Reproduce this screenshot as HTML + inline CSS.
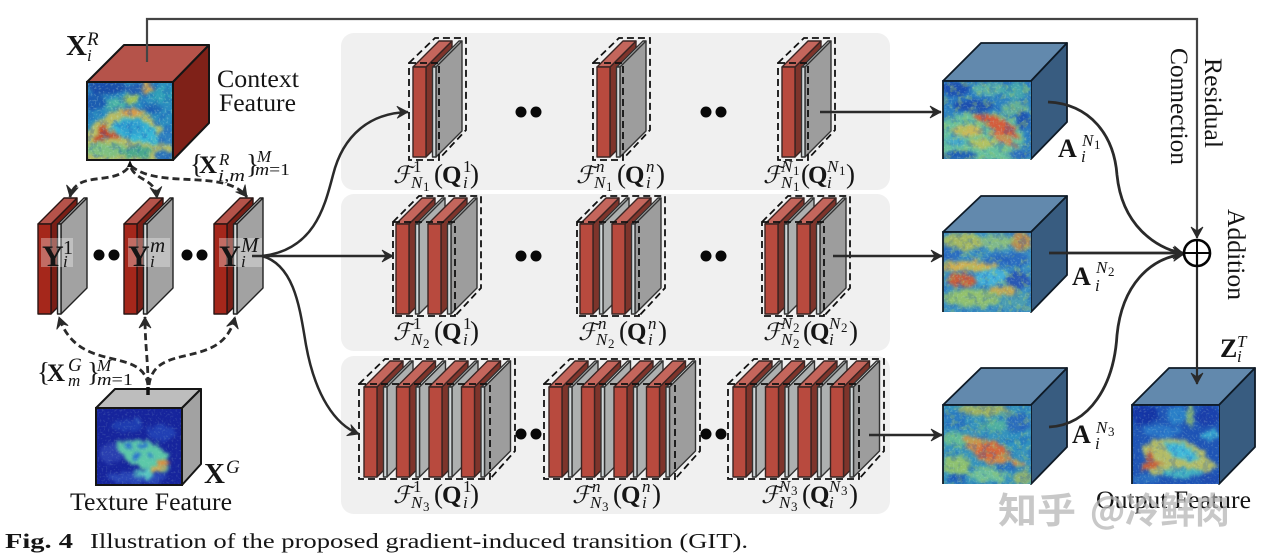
<!DOCTYPE html>
<html><head><meta charset="utf-8"><style>
html,body{margin:0;padding:0;background:#fff;width:1263px;height:560px;overflow:hidden}
svg text{font-family:"Liberation Serif","DejaVu Serif","Noto Serif CJK SC",serif;fill:#151515}
.l{font-size:24px}.b{font-weight:bold}.i{font-style:italic}
.f{font-size:24px;font-style:italic}.p{font-size:27px}.q{font-size:25px;font-weight:bold}
.s{font-size:17px}.t{font-size:13px}
.X{font-size:29px;font-weight:bold}.X2{font-size:25px;font-weight:bold}
.wm{font-family:"Noto Sans CJK SC","Liberation Sans",sans-serif!important;font-size:36px;font-weight:bold;fill:#b4b4b4;opacity:.72}
</style></head><body>
<svg width="1263" height="560" viewBox="0 0 1263 560" xmlns="http://www.w3.org/2000/svg" style="display:block">
<defs>
<marker id="a" viewBox="-13 -7 15 14" refX="0" refY="0" markerWidth="15" markerHeight="14" markerUnits="userSpaceOnUse" orient="auto"><path d="M0,0 L-11,-6 L-7,0 L-11,6 Z" fill="#2a2a2a" stroke="#2a2a2a" stroke-width=".8"/></marker>
<filter id="h" x="-20%" y="-20%" width="140%" height="140%" color-interpolation-filters="sRGB"><feTurbulence type="fractalNoise" baseFrequency=".2" numOctaves="3" seed="4" result="n"/><feDisplacementMap in="SourceGraphic" in2="n" scale="10" xChannelSelector="R" yChannelSelector="G"/><feGaussianBlur stdDeviation="1.600"/></filter>
<filter id="nb1" x="0" y="0" width="100%" height="100%" color-interpolation-filters="sRGB"><feTurbulence type="fractalNoise" baseFrequency=".13" numOctaves="3" seed="7"/><feColorMatrix type="matrix" values="0 0 0 0 .09  0 0 0 0 .3  0 0 0 0 .72  6 0 0 0 -3"/></filter>
<filter id="nb2" x="0" y="0" width="100%" height="100%" color-interpolation-filters="sRGB"><feTurbulence type="fractalNoise" baseFrequency=".13" numOctaves="3" seed="23"/><feColorMatrix type="matrix" values="0 0 0 0 .09  0 0 0 0 .3  0 0 0 0 .72  6 0 0 0 -3"/></filter>
<filter id="ng1" x="0" y="0" width="100%" height="100%" color-interpolation-filters="sRGB"><feTurbulence type="fractalNoise" baseFrequency=".15" numOctaves="3" seed="12"/><feColorMatrix type="matrix" values="0 0 0 0 .62  0 0 0 0 .78  0 0 0 0 .4  0 6 0 0 -3.100"/></filter>
<filter id="ng2" x="0" y="0" width="100%" height="100%" color-interpolation-filters="sRGB"><feTurbulence type="fractalNoise" baseFrequency=".15" numOctaves="3" seed="31"/><feColorMatrix type="matrix" values="0 0 0 0 .62  0 0 0 0 .78  0 0 0 0 .4  0 6 0 0 -3.100"/></filter>
<filter id="nf" x="0" y="0" width="100%" height="100%" color-interpolation-filters="sRGB"><feTurbulence type="fractalNoise" baseFrequency=".5" numOctaves="2" seed="3"/><feColorMatrix type="matrix" values="0 0 0 0 .75  0 0 0 0 .9  0 0 0 0 .85  5 0 0 0 -2.700"/></filter>
<g id="u" stroke="#3a2422" stroke-width="1.4" stroke-linejoin="round">
<polygon points="13,0 39,-26 39,64 13,90" fill="#7e342b"/>
<polygon points="0,0 13,0 39,-26 26,-26" fill="#c4665c"/>
<rect x="0" y="0" width="13" height="90" fill="#b84a3e"/>
<polygon points="20,0 23,0 49,-26 46,-26" fill="#d8dcdc" stroke="#333"/>
<polygon points="23,0 49,-26 49,64 23,90" fill="#adb0b0" stroke="#333"/>
<rect x="19.500" y="0" width="3.500" height="90" fill="#cfd6d8" stroke="#333"/>
</g>
<g id="uL" stroke="#3a2422" stroke-width="1.4" stroke-linejoin="round">
<polygon points="13,0 39,-26 39,64 13,90" fill="#7e342b"/>
<polygon points="0,0 13,0 39,-26 26,-26" fill="#c4665c"/>
<rect x="0" y="0" width="13" height="90" fill="#b84a3e"/>
<polygon points="20,0 23,0 49,-26 46,-26" fill="#d8dcdc" stroke="#333"/>
<polygon points="23,0 49,-26 49,64 23,90" fill="#9d9d9d" stroke="#333"/>
<rect x="19.500" y="0" width="3.500" height="90" fill="#cfd6d8" stroke="#333"/>
</g>
<g id="uY" stroke="#2a1614" stroke-width="1.4" stroke-linejoin="round">
<polygon points="13,0 39,-26 39,64 13,90" fill="#7a1f16"/>
<polygon points="0,0 13,0 39,-26 26,-26" fill="#b5534a"/>
<rect x="0" y="0" width="13" height="90" fill="#a5271b"/>
<polygon points="20,0 23,0 49,-26 46,-26" fill="#dedede" stroke="#222"/>
<polygon points="23,0 49,-26 49,64 23,90" fill="#a2a2a2" stroke="#222"/>
<rect x="19.500" y="0" width="3.500" height="90" fill="#d4d8d8" stroke="#222"/>
</g>
<g id="b1">
<use href="#uL"/>
<path d="M-4,-4 L22,-29 H53 V63 L26,92 M-4,-4 H26 V93 H-4 Z" fill="none" stroke="#111" stroke-width="1.800" stroke-dasharray="7 4"/>
</g>
<g id="b2">
<use href="#u"/><use href="#uL" x="32"/>
<path d="M-3,-2 L23,-28 H85 V64 L59,92 M-3,-2 H59 V92 H-3 Z" fill="none" stroke="#111" stroke-width="1.800" stroke-dasharray="7 4"/>
</g>
<g id="b3">
<use href="#u"/><use href="#u" x="32.500"/><use href="#u" x="65"/><use href="#uL" x="97.500"/>
<path d="M-5,-3 L21,-28 H151 V64 L126,92 M-5,-3 H126 V92 H-5 Z" fill="none" stroke="#111" stroke-width="1.800" stroke-dasharray="7 4"/>
</g>
</defs>

<rect width="1263" height="560" fill="#fff"/>
<rect x="341" y="33" width="549" height="157" rx="13" fill="#f0f0f0"/>
<rect x="341" y="194" width="549" height="157" rx="13" fill="#f0f0f0"/>
<rect x="341" y="356" width="549" height="158" rx="13" fill="#f0f0f0"/>

<!-- Context cube -->
<g stroke="#151515" stroke-width="2" stroke-linejoin="round">
<polygon points="87,82 124,45 209,45 173,82" fill="#b5534a"/>
<polygon points="173,82 209,45 209,123 173,160" fill="#7f2118"/>
</g>
<svg x="87" y="82" width="86" height="78" viewBox="0 0 86 78"><g filter="url(#h)">
<rect x="-15" y="-15" width="116" height="108" fill="#2a8bbf"/>
<ellipse cx="20" cy="5" rx="20" ry="7" fill="#1a4fa8"/><ellipse cx="55" cy="7" rx="18" ry="6" fill="#2460b0"/><ellipse cx="8" cy="20" rx="10" ry="9" fill="#1b5cb0"/><ellipse cx="75" cy="14" rx="12" ry="9" fill="#2f9fb8"/><ellipse cx="45" cy="17" rx="8" ry="5" fill="#9fc25a"/><ellipse cx="60" cy="5" rx="5" ry="7" fill="#c9a050"/><ellipse cx="28" cy="22" rx="9" ry="6" fill="#4db5a5"/><ellipse cx="66" cy="26" rx="8" ry="5" fill="#1f66b5"/>
<path d="M-5,58 C10,32 30,26 48,28 C62,30 78,48 88,66 L88,85 L-5,85 Z" fill="#b8bc62"/>
<path d="M22,48 C28,36 42,34 52,37 C64,42 70,50 74,60 C58,62 38,60 22,48 Z" fill="#36b6d6"/>
<ellipse cx="45" cy="45" rx="13" ry="7" fill="#2e9fd0"/>
<path d="M16,40 L22,50 L36,56 L18,56 L4,62 L12,50 Z" fill="#c4472c"/>
<ellipse cx="46" cy="30" rx="12" ry="3" fill="#d89a4a"/>
<ellipse cx="20" cy="68" rx="22" ry="8" fill="#7fc080"/><ellipse cx="50" cy="70" rx="16" ry="6" fill="#4aa88c"/><ellipse cx="77" cy="74" rx="10" ry="6" fill="#2a72b8"/><ellipse cx="80" cy="55" rx="8" ry="9" fill="#2d7fc0"/>
</g><rect width="86" height="78" filter="url(#nb1)" opacity=".28"/><rect width="86" height="78" filter="url(#nf)" opacity=".3"/></svg>
<rect x="87" y="82" width="86" height="78" fill="none" stroke="#151515" stroke-width="2"/>

<!-- Texture cube -->
<g stroke="#151515" stroke-width="2" stroke-linejoin="round">
<polygon points="96,408 115,389 201,389 182,408" fill="#bdbdbd"/>
<polygon points="182,408 201,389 201,464 182,485" fill="#a2a2a2"/>
</g>
<svg x="96" y="408" width="86" height="77" viewBox="0 0 86 77"><g filter="url(#h)">
<rect x="-15" y="-15" width="116" height="108" fill="#16249c"/>
<ellipse cx="42" cy="14" rx="3" ry="3" fill="#4c9ce0"/><ellipse cx="30" cy="18" rx="16" ry="6" fill="#1e3cb0"/><ellipse cx="65" cy="25" rx="14" ry="8" fill="#2140b4"/><ellipse cx="15" cy="45" rx="12" ry="10" fill="#2a3fb0"/><ellipse cx="40" cy="70" rx="30" ry="6" fill="#2a48b8"/>
<path d="M20,36 C35,28 52,30 62,38 C72,45 76,55 72,62 C60,68 42,58 34,56 C26,50 22,42 20,36 Z" fill="#5cc8a8"/>
<ellipse cx="33" cy="38" rx="4" ry="3" fill="#2a70d0"/><ellipse cx="46" cy="38" rx="4" ry="3" fill="#2a70d0"/><ellipse cx="40" cy="48" rx="4" ry="3" fill="#2a70d0"/><ellipse cx="55" cy="48" rx="3" ry="3" fill="#3080d0"/>
<ellipse cx="68" cy="55" rx="6" ry="5" fill="#e08a3c"/><ellipse cx="60" cy="60" rx="5" ry="3" fill="#d8a84c"/><ellipse cx="48" cy="66" rx="10" ry="4" fill="#58c8c0"/>
</g><rect width="86" height="77" filter="url(#nf)" opacity=".14"/></svg>
<rect x="96" y="408" width="86" height="77" fill="none" stroke="#151515" stroke-width="2"/>

<!-- A1 cube -->
<g stroke="#0e1a26" stroke-width="1.800" stroke-linejoin="round">
<polygon points="943,81 981,43 1067,43 1031,81" fill="#6289ad"/>
<polygon points="1031,81 1067,43 1067,122 1031,159" fill="#385c80"/>
</g>
<svg x="943" y="81" width="88" height="78" viewBox="0 0 88 78"><g filter="url(#h)">
<rect x="-15" y="-15" width="118" height="108" fill="#2c80c0"/>
<ellipse cx="12" cy="8" rx="14" ry="8" fill="#1c50b0"/><ellipse cx="45" cy="8" rx="16" ry="7" fill="#58b0a8"/><ellipse cx="72" cy="10" rx="14" ry="8" fill="#45a5ac"/><ellipse cx="30" cy="25" rx="20" ry="6" fill="#1d4fae"/><ellipse cx="72" cy="28" rx="14" ry="7" fill="#62b09a"/>
<path d="M-5,42 C20,28 50,28 65,36 C78,44 84,55 78,68 L88,85 L-5,85 Z" fill="#68c09c"/>
<path d="M28,34 C45,28 62,36 70,46 L78,58 C60,58 42,44 28,34 Z" fill="#d45c3c"/>
<ellipse cx="60" cy="58" rx="16" ry="3.500" fill="#d8764a" transform="rotate(28 60 58)"/>
<ellipse cx="25" cy="50" rx="16" ry="6" fill="#c8b858"/><ellipse cx="12" cy="60" rx="10" ry="6" fill="#45a8c8"/><ellipse cx="40" cy="62" rx="14" ry="5" fill="#b8c060"/><ellipse cx="80" cy="40" rx="7" ry="10" fill="#2158b0"/><ellipse cx="15" cy="75" rx="18" ry="5" fill="#1f60b5"/><ellipse cx="75" cy="74" rx="10" ry="5" fill="#2d70bc"/>
</g><rect width="88" height="78" filter="url(#nb2)" opacity=".25"/><rect width="88" height="78" filter="url(#ng1)" opacity=".35"/><rect width="88" height="78" filter="url(#nf)" opacity=".25"/></svg>
<path d="M943,159 V81 H1031" fill="none" stroke="#0e1a26" stroke-width="1.800"/>

<!-- A2 cube -->
<g stroke="#0e1a26" stroke-width="1.800" stroke-linejoin="round">
<polygon points="943,232 981,196 1067,196 1031,232" fill="#6289ad"/>
<polygon points="1031,232 1067,196 1067,275 1031,312" fill="#385c80"/>
</g>
<svg x="943" y="232" width="88" height="80" viewBox="0 0 88 80"><g filter="url(#h)">
<rect x="-15" y="-15" width="118" height="110" fill="#3a8fc0"/>
<ellipse cx="20" cy="10" rx="22" ry="9" fill="#a6b860"/><ellipse cx="55" cy="10" rx="18" ry="8" fill="#7fb88a"/><ellipse cx="78" cy="10" rx="10" ry="9" fill="#b88a50"/><ellipse cx="8" cy="22" rx="10" ry="8" fill="#2c6fc0"/><ellipse cx="65" cy="28" rx="22" ry="7" fill="#2a6cc0"/>
<ellipse cx="25" cy="34" rx="30" ry="5" fill="#d2b050"/><ellipse cx="20" cy="48" rx="16" ry="7" fill="#c85c3c"/><ellipse cx="50" cy="45" rx="20" ry="8" fill="#44b0d8"/><ellipse cx="75" cy="48" rx="12" ry="9" fill="#2a58b4"/>
<ellipse cx="30" cy="66" rx="28" ry="9" fill="#90c070"/><ellipse cx="70" cy="68" rx="16" ry="8" fill="#4a9cb0"/><ellipse cx="60" cy="58" rx="14" ry="4" fill="#c8a850"/>
</g><rect width="88" height="80" filter="url(#nb1)" opacity=".25"/><rect width="88" height="80" filter="url(#ng2)" opacity=".35"/><rect width="88" height="80" filter="url(#nf)" opacity=".25"/></svg>
<path d="M943,312 V232 H1031" fill="none" stroke="#0e1a26" stroke-width="1.800"/>

<!-- A3 cube -->
<g stroke="#0e1a26" stroke-width="1.800" stroke-linejoin="round">
<polygon points="943,405 981,368 1067,368 1031,405" fill="#6289ad"/>
<polygon points="1031,405 1067,368 1067,447 1031,484" fill="#385c80"/>
</g>
<svg x="943" y="405" width="88" height="79" viewBox="0 0 88 79"><g filter="url(#h)">
<rect x="-15" y="-15" width="118" height="109" fill="#3592bc"/>
<ellipse cx="40" cy="5" rx="25" ry="6" fill="#9eb060"/><ellipse cx="12" cy="15" rx="12" ry="10" fill="#2a7cc0"/><ellipse cx="50" cy="20" rx="14" ry="6" fill="#50b0a0"/><ellipse cx="75" cy="18" rx="12" ry="10" fill="#2a6cbc"/><ellipse cx="15" cy="35" rx="14" ry="8" fill="#62ba96"/>
<path d="M18,32 C35,28 55,36 68,52 L84,60 C70,62 40,62 32,50 C26,44 20,38 18,32 Z" fill="#d08a48"/>
<ellipse cx="48" cy="46" rx="15" ry="8" fill="#d4663c"/>
<ellipse cx="75" cy="36" rx="12" ry="9" fill="#2e90c0"/><ellipse cx="14" cy="60" rx="14" ry="9" fill="#8cc070"/><ellipse cx="45" cy="70" rx="20" ry="7" fill="#70c098"/><ellipse cx="62" cy="62" rx="10" ry="5" fill="#2470c0"/><ellipse cx="80" cy="72" rx="9" ry="7" fill="#8cb070"/><ellipse cx="14" cy="74" rx="10" ry="5" fill="#2060b8"/>
</g><rect width="88" height="79" filter="url(#nb2)" opacity=".25"/><rect width="88" height="79" filter="url(#ng2)" opacity=".3"/><rect width="88" height="79" filter="url(#nf)" opacity=".25"/></svg>
<path d="M943,484 V405 H1031" fill="none" stroke="#0e1a26" stroke-width="1.800"/>

<!-- Z cube -->
<g stroke="#0e1a26" stroke-width="1.800" stroke-linejoin="round">
<polygon points="1132,405 1169,368 1255,368 1219,405" fill="#6289ad"/>
<polygon points="1219,405 1255,368 1255,447 1219,484" fill="#385c80"/>
</g>
<svg x="1132" y="405" width="87" height="79" viewBox="0 0 87 79"><g filter="url(#h)">
<rect x="-15" y="-15" width="117" height="109" fill="#1f55b5"/>
<ellipse cx="12" cy="10" rx="14" ry="10" fill="#1434a4"/><ellipse cx="45" cy="10" rx="10" ry="9" fill="#2a80c8"/><ellipse cx="58" cy="10" rx="3" ry="12" fill="#8ab870"/><ellipse cx="75" cy="12" rx="12" ry="10" fill="#1a3eaa"/><ellipse cx="30" cy="26" rx="18" ry="6" fill="#2a78c8"/><ellipse cx="78" cy="30" rx="9" ry="5" fill="#38a8d0"/>
<path d="M10,42 C30,28 55,32 68,44 L86,62 L60,72 L20,70 Z" fill="#b4bc66"/>
<path d="M30,38 C45,34 60,42 68,54 C55,58 38,52 30,38 Z" fill="#40b8d8"/>
<path d="M18,42 L22,56 L34,58 L20,62 L8,66 L14,54 Z" fill="#c8603a"/>
<ellipse cx="50" cy="68" rx="20" ry="5" fill="#42b0c0"/><ellipse cx="14" cy="74" rx="14" ry="5" fill="#2a70c0"/><ellipse cx="78" cy="74" rx="10" ry="5" fill="#1f4cb0"/>
</g><rect width="87" height="79" filter="url(#nb1)" opacity=".22"/><rect width="87" height="79" filter="url(#nf)" opacity=".22"/></svg>
<path d="M1132,484 V405 H1219" fill="none" stroke="#0e1a26" stroke-width="1.800"/>

<!-- Y blocks -->
<use href="#uY" x="38" y="224"/><use href="#uY" x="124" y="224"/><use href="#uY" x="214" y="224"/>
<rect x="41" y="238" width="32" height="29" fill="#fff" opacity=".32"/>
<rect x="128" y="238" width="42" height="29" fill="#fff" opacity=".32"/>
<rect x="219" y="238" width="43" height="29" fill="#fff" opacity=".32"/>

<!-- panel blocks -->
<use href="#b1" x="413" y="67"/><use href="#b1" x="597" y="67"/><use href="#b1" x="782" y="67"/>
<use href="#b2" x="396" y="224"/><use href="#b2" x="580" y="224"/><use href="#b2" x="765" y="224"/>
<use href="#b3" x="364" y="387"/><use href="#b3" x="549" y="387"/><use href="#b3" x="733" y="387"/>

<!-- dots -->
<g fill="#080808">
<circle cx="99" cy="255" r="5.500"/><circle cx="114" cy="255" r="5.500"/><circle cx="187" cy="255" r="5.500"/><circle cx="202" cy="255" r="5.500"/>
<circle cx="521" cy="112" r="5.500"/><circle cx="536" cy="112" r="5.500"/><circle cx="706" cy="112" r="5.500"/><circle cx="721" cy="112" r="5.500"/>
<circle cx="521" cy="256" r="5.500"/><circle cx="536" cy="256" r="5.500"/><circle cx="706" cy="256" r="5.500"/><circle cx="721" cy="256" r="5.500"/>
<circle cx="521" cy="434" r="5.500"/><circle cx="536" cy="434" r="5.500"/><circle cx="706" cy="434" r="5.500"/><circle cx="721" cy="434" r="5.500"/>
</g>

<!-- solid connectors -->
<g fill="none" stroke="#2a2a2a" stroke-width="2.500">
<path d="M147,62 V19 H1197 V238" stroke="#444" stroke-width="2.200" marker-end="url(#a)"/>
<path d="M1197,253 V384" stroke-width="2.200" marker-end="url(#a)"/>
<path d="M262,256 C315,250 325,205 333,175 C343,135 370,113 408,112" marker-end="url(#a)"/>
<path d="M252,256 H393" marker-end="url(#a)"/>
<path d="M262,256 C295,265 300,310 306,345 C315,395 335,425 359,434" marker-end="url(#a)"/>
<path d="M820,112 H941" marker-end="url(#a)"/>
<path d="M833,256 H942" marker-end="url(#a)"/>
<path d="M869,435 H942" marker-end="url(#a)"/>
<path d="M1048,102 C1090,104 1114,135 1117,175 C1122,225 1155,248 1184,254" stroke-width="2.800" marker-end="url(#a)"/>
<path d="M1049,253 H1184" stroke-width="2.800" marker-end="url(#a)"/>
<path d="M1049,427 C1090,425 1114,385 1117,335 C1122,285 1150,258 1184,254" stroke-width="2.800" marker-end="url(#a)"/>
</g>
<circle cx="1197" cy="253" r="13" fill="none" stroke="#050505" stroke-width="2.600"/>
<path d="M1184,253 H1210 M1197,240 V266" stroke="#050505" stroke-width="2"/>

<!-- dashed connectors -->
<g fill="none" stroke="#2a2a2a" stroke-width="2.800" stroke-dasharray="7 4">
<path d="M128,168 C112,186 76,170 70,197" marker-end="url(#a)"/>
<path d="M131,168 C138,182 155,178 157,198" marker-end="url(#a)"/>
<path d="M131,166 C160,190 225,168 247,197" marker-end="url(#a)"/>
<path d="M148,385 C142,345 78,375 59,317" marker-end="url(#a)"/>
<path d="M148,384 C148,360 145,345 145,317" marker-end="url(#a)"/>
<path d="M149,385 C155,340 222,372 235,317" marker-end="url(#a)"/>
</g>
<path d="M130,160 L127,167 L133,167 Z" fill="#111"/>
<path d="M148,387 V395" stroke="#111" stroke-width="3.500"/>

<!-- cube labels -->
<text class="X" x="66" y="55">X</text><text class="s i" x="87" y="45" style="font-size:19px">R</text><text class="s i" x="87" y="61">i</text>
<text x="217" y="87" style="font-size:25px" textLength="82" lengthAdjust="spacingAndGlyphs">Context</text>
<text x="219" y="111" style="font-size:25px" textLength="77" lengthAdjust="spacingAndGlyphs">Feature</text>
<text class="p" x="190" y="173">{</text><text class="X2" x="199" y="173">X</text><text class="s i" x="219" y="165">R</text><text class="s i" x="218" y="181" textLength="27" lengthAdjust="spacingAndGlyphs">i,m</text><text class="p" x="246" y="173">}</text><text class="s i" x="257" y="162">M</text><text class="s i" x="255" y="175" textLength="35" lengthAdjust="spacingAndGlyphs">m<tspan font-style="normal">=1</tspan></text>
<text class="p" x="37" y="381">{</text><text class="X2" x="47" y="381">X</text><text class="s i" x="68" y="371" style="font-size:19px">G</text><text class="s i" x="68" y="386">m</text><text class="p" x="87" y="381">}</text><text class="s i" x="97" y="371">M</text><text class="s i" x="97" y="385" textLength="36" lengthAdjust="spacingAndGlyphs">m<tspan font-style="normal">=1</tspan></text>
<text class="X" x="204" y="483">X</text><text class="s i" x="226" y="473" style="font-size:19px">G</text>
<text x="70" y="510" style="font-size:25px" textLength="162" lengthAdjust="spacingAndGlyphs">Texture Feature</text>
<text x="1096" y="508" style="font-size:25px" textLength="155" lengthAdjust="spacingAndGlyphs">Output Feature</text>

<!-- Y labels -->
<text class="X" x="42" y="266" style="font-size:30px">Y</text><text class="s" x="63" y="254" style="font-size:20px">1</text><text class="s i" x="63" y="267">i</text>
<text class="X" x="128" y="266" style="font-size:30px">Y</text><text class="s i" x="150" y="252" style="font-size:21px">m</text><text class="s i" x="150" y="267">i</text>
<text class="X" x="219" y="266" style="font-size:30px">Y</text><text class="s i" x="241" y="252" style="font-size:21px">M</text><text class="s i" x="241" y="267">i</text>

<!-- A, Z labels -->
<text class="X" x="1058" y="157" style="font-size:26px">A</text><text class="s i" x="1082" y="146">N</text><text class="t" x="1094" y="149">1</text><text class="s i" x="1081" y="162">i</text>
<text class="X" x="1072" y="285" style="font-size:26px">A</text><text class="s i" x="1096" y="273">N</text><text class="t" x="1108" y="276">2</text><text class="s i" x="1095" y="291">i</text>
<text class="X" x="1072" y="443" style="font-size:26px">A</text><text class="s i" x="1096" y="433">N</text><text class="t" x="1108" y="436">3</text><text class="s i" x="1095" y="449">i</text>
<text class="X" x="1220" y="357" style="font-size:26px">Z</text><text class="s i" x="1237" y="347">T</text><text class="s i" x="1237" y="362">i</text>

<!-- rotated labels -->
<text transform="translate(1171,48) rotate(90)" style="font-size:25px" textLength="117" lengthAdjust="spacingAndGlyphs">Connection</text>
<text transform="translate(1205,58) rotate(90)" style="font-size:25px" textLength="90" lengthAdjust="spacingAndGlyphs">Residual</text>
<text transform="translate(1228,209) rotate(90)" style="font-size:25px" textLength="91" lengthAdjust="spacingAndGlyphs">Addition</text>

<!-- row 1 formulas -->
<g transform="translate(393,183)"><text class="f" x="0" y="0">ℱ</text><text class="s" x="20" y="-11">1</text><text class="s i" x="18" y="5">N</text><text class="t" x="30" y="8">1</text><text class="p" x="41" y="0">(</text><text class="q" x="49" y="0">Q</text><text class="s" x="70" y="-11">1</text><text class="s i" x="70" y="5">i</text><text class="p" x="77" y="0">)</text></g>
<g transform="translate(576,183)"><text class="f" x="0" y="0">ℱ</text><text class="s i" x="20" y="-11">n</text><text class="s i" x="18" y="5">N</text><text class="t" x="30" y="8">1</text><text class="p" x="41" y="0">(</text><text class="q" x="49" y="0">Q</text><text class="s i" x="70" y="-11">n</text><text class="s i" x="70" y="5">i</text><text class="p" x="80" y="0">)</text></g>
<g transform="translate(763,183)"><text class="f" x="0" y="0">ℱ</text><text class="s i" x="18" y="-11">N</text><text class="t" x="30" y="-8">1</text><text class="s i" x="18" y="5">N</text><text class="t" x="30" y="8">1</text><text class="p" x="38" y="0">(</text><text class="q" x="45" y="0">Q</text><text class="s i" x="64" y="-11">N</text><text class="t" x="76" y="-8">1</text><text class="s i" x="64" y="5">i</text><text class="p" x="83" y="0">)</text></g>
<!-- row 2 formulas -->
<g transform="translate(393,340)"><text class="f" x="0" y="0">ℱ</text><text class="s" x="20" y="-11">1</text><text class="s i" x="18" y="5">N</text><text class="t" x="30" y="8">2</text><text class="p" x="41" y="0">(</text><text class="q" x="49" y="0">Q</text><text class="s" x="70" y="-11">1</text><text class="s i" x="70" y="5">i</text><text class="p" x="77" y="0">)</text></g>
<g transform="translate(578,340)"><text class="f" x="0" y="0">ℱ</text><text class="s i" x="20" y="-11">n</text><text class="s i" x="18" y="5">N</text><text class="t" x="30" y="8">2</text><text class="p" x="41" y="0">(</text><text class="q" x="49" y="0">Q</text><text class="s i" x="70" y="-11">n</text><text class="s i" x="70" y="5">i</text><text class="p" x="80" y="0">)</text></g>
<g transform="translate(763,340)"><text class="f" x="0" y="0">ℱ</text><text class="s i" x="18" y="-11">N</text><text class="t" x="30" y="-8">2</text><text class="s i" x="18" y="5">N</text><text class="t" x="30" y="8">2</text><text class="p" x="40" y="0">(</text><text class="q" x="47" y="0">Q</text><text class="s i" x="66" y="-11">N</text><text class="t" x="78" y="-8">2</text><text class="s i" x="66" y="5">i</text><text class="p" x="86" y="0">)</text></g>
<!-- row 3 formulas -->
<g transform="translate(393,503)"><text class="f" x="0" y="0">ℱ</text><text class="s" x="20" y="-11">1</text><text class="s i" x="18" y="5">N</text><text class="t" x="30" y="8">3</text><text class="p" x="41" y="0">(</text><text class="q" x="49" y="0">Q</text><text class="s" x="70" y="-11">1</text><text class="s i" x="70" y="5">i</text><text class="p" x="77" y="0">)</text></g>
<g transform="translate(572,503)"><text class="f" x="0" y="0">ℱ</text><text class="s i" x="20" y="-11">n</text><text class="s i" x="18" y="5">N</text><text class="t" x="30" y="8">3</text><text class="p" x="41" y="0">(</text><text class="q" x="49" y="0">Q</text><text class="s i" x="70" y="-11">n</text><text class="s i" x="70" y="5">i</text><text class="p" x="80" y="0">)</text></g>
<g transform="translate(761,503)"><text class="f" x="0" y="0">ℱ</text><text class="s i" x="18" y="-11">N</text><text class="t" x="30" y="-8">3</text><text class="s i" x="18" y="5">N</text><text class="t" x="30" y="8">3</text><text class="p" x="41" y="0">(</text><text class="q" x="49" y="0">Q</text><text class="s i" x="68" y="-11">N</text><text class="t" x="80" y="-8">3</text><text class="s i" x="68" y="5">i</text><text class="p" x="88" y="0">)</text></g>

<!-- caption -->
<text class="b" x="5" y="548" style="font-size:21px" textLength="68" lengthAdjust="spacingAndGlyphs">Fig. 4</text>
<text x="90" y="548" style="font-size:21px" textLength="658" lengthAdjust="spacingAndGlyphs">Illustration of the proposed gradient-induced transition (GIT).</text>

<!-- watermark -->
<text class="wm" x="998" y="523" textLength="78" lengthAdjust="spacingAndGlyphs">知乎</text>
<text class="wm" x="1090" y="523" textLength="140" lengthAdjust="spacingAndGlyphs">@冷鲜肉</text>
</svg>
</body></html>
